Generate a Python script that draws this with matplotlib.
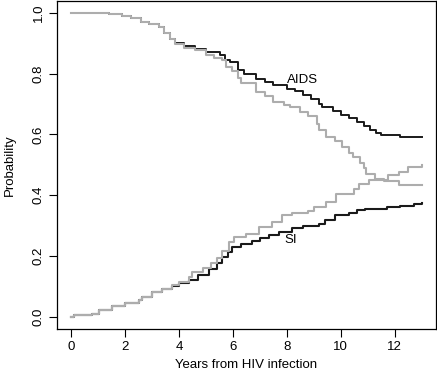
import matplotlib
matplotlib.use('Agg')
import matplotlib.pyplot as plt

plt.rcParams['font.family'] = ['Liberation Sans', 'DejaVu Sans']

# AIDS (upper curves), black and grey
aids_black_t = [0.0, 1.4, 1.9, 2.2, 2.57, 2.9, 3.25, 3.45, 3.65, 3.85, 4.2, 4.6, 5.0, 5.5,
                5.7, 5.9, 6.2, 6.4, 6.85, 7.2, 7.5, 8.0, 8.3, 8.6, 8.9, 9.2, 9.3, 9.7,
                10.0, 10.3, 10.6, 10.85, 11.1, 11.3, 11.5, 12.2, 13.0]
aids_black_p = [1.000, 0.995, 0.990, 0.982, 0.971, 0.962, 0.952, 0.935, 0.915, 0.900, 0.890,
                0.880, 0.872, 0.861, 0.845, 0.838, 0.812, 0.800, 0.784, 0.772, 0.762, 0.750,
                0.742, 0.730, 0.718, 0.700, 0.690, 0.676, 0.665, 0.653, 0.640, 0.628, 0.615,
                0.605, 0.597, 0.593, 0.593]

aids_grey_t = [0.0, 1.4, 1.9, 2.2, 2.57, 2.9, 3.25, 3.45, 3.65, 3.85, 4.2, 4.6, 5.0, 5.3,
               5.6, 5.73, 5.95, 6.2, 6.3, 6.85, 7.2, 7.5, 7.9, 8.1, 8.5, 8.8, 9.1, 9.2,
               9.45, 9.8, 10.05, 10.3, 10.45, 10.7, 10.85, 10.95, 11.25, 11.6, 12.17, 13.0]
aids_grey_p = [1.000, 0.995, 0.990, 0.982, 0.971, 0.962, 0.952, 0.935, 0.915, 0.898, 0.886,
               0.877, 0.862, 0.851, 0.845, 0.822, 0.810, 0.785, 0.770, 0.740, 0.725, 0.707,
               0.698, 0.690, 0.675, 0.662, 0.636, 0.614, 0.592, 0.578, 0.559, 0.540, 0.526,
               0.505, 0.490, 0.471, 0.452, 0.448, 0.435, 0.435]

# SI (lower curves), black and grey
si_black_t = [0.0, 0.1, 0.77, 1.02, 1.5, 2.0, 2.5, 2.63, 3.0, 3.38, 3.75, 4.0, 4.37, 4.7,
              5.11, 5.4, 5.6, 5.8, 5.97, 6.3, 6.72, 7.0, 7.34, 7.71, 8.2, 8.6, 9.2, 9.4,
              9.8, 10.3, 10.6, 10.9, 11.7, 12.2, 12.7, 13.0]
si_black_p = [0.000, 0.005, 0.010, 0.021, 0.034, 0.045, 0.054, 0.065, 0.081, 0.090, 0.100,
              0.110, 0.122, 0.138, 0.158, 0.178, 0.198, 0.213, 0.229, 0.240, 0.251, 0.260,
              0.268, 0.279, 0.292, 0.298, 0.306, 0.317, 0.334, 0.340, 0.350, 0.356, 0.361,
              0.366, 0.370, 0.374]

si_grey_t = [0.0, 0.1, 0.77, 1.02, 1.5, 2.0, 2.5, 2.63, 3.0, 3.38, 3.75, 4.0, 4.37, 4.48,
             4.9, 5.2, 5.4, 5.6, 5.85, 6.05, 6.48, 6.97, 7.46, 7.83, 8.2, 8.8, 9.01, 9.45,
             9.82, 10.5, 10.69, 11.06, 11.74, 12.17, 12.48, 13.0]
si_grey_p = [0.000, 0.005, 0.010, 0.021, 0.034, 0.045, 0.054, 0.065, 0.081, 0.092, 0.103,
             0.114, 0.130, 0.147, 0.160, 0.178, 0.195, 0.218, 0.245, 0.262, 0.273, 0.295,
             0.312, 0.334, 0.340, 0.347, 0.361, 0.378, 0.405, 0.422, 0.438, 0.449, 0.466,
             0.476, 0.493, 0.498]

x_ticks = [0, 2, 4, 6, 8, 10, 12]
y_ticks = [0.0, 0.2, 0.4, 0.6, 0.8, 1.0]
y_ticklabels = ['0.0', '0.2', '0.4', '0.6', '0.8', '1.0']

fig = plt.figure(figsize=(4.37, 3.70), dpi=100)
ax = fig.add_axes([0.131, 0.111, 0.866, 0.887])

grey = '#adadad'
black = '#1a1a1a'
# black first, grey on top (grey hides black where they coincide)
ax.step(aids_black_t, aids_black_p, where='post', color=black, lw=1.4)
ax.step(si_black_t, si_black_p, where='post', color=black, lw=1.5)
ax.step(aids_grey_t, aids_grey_p, where='post', color=grey, lw=1.5)
ax.step(si_grey_t, si_grey_p, where='post', color=grey, lw=1.5)

ax.text(8.57, 0.779, 'AIDS', ha='center', va='center', fontsize=9.5)
ax.text(8.16, 0.252, 'SI', ha='center', va='center', fontsize=9.5)

ax.set_xlim(-0.52, 13.52)
ax.set_ylim(-0.04, 1.04)
ax.set_xticks(x_ticks)
ax.set_yticks(y_ticks)
ax.set_yticklabels(y_ticklabels, rotation=90, va='center')
ax.tick_params(direction='out', length=6, width=0.8, labelsize=9.5, pad=3)
for s in ax.spines.values():
    s.set_linewidth(0.9)

ax.set_xlabel('Years from HIV infection', fontsize=9.5, labelpad=4)
ax.set_ylabel('Probability', fontsize=9.5, labelpad=12)

fig.savefig('out.png', dpi=100)
